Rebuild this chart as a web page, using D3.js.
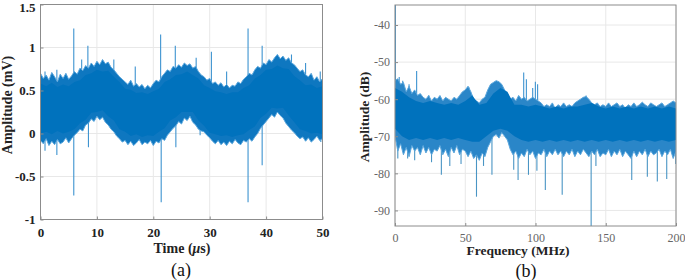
<!DOCTYPE html>
<html><head><meta charset="utf-8">
<script src="https://cdn.jsdelivr.net/npm/d3@7"></script>
<style>body{margin:0;background:#fff}svg{display:block}</style>
</head><body>
<svg id="c" width="685" height="280"></svg>
<script>
// ---------- Panel (a): time signal ----------
const timeTicks = [0, 10, 20, 30, 40, 50];
const ampTicks = [-1, -0.5, 0, 0.5, 1, 1.5];
const ampTickLabels = ["-1", "-0.5", "0", "0.5", "1", "1.5"];
// outer envelope, sampled every 0.5 us from 0 to 50
const timeHi = [0.70,0.64,0.68,0.62,0.71,0.66,0.60,0.69,0.64,0.70,0.63,0.67,0.72,0.69,0.76,0.73,0.79,0.76,0.82,0.78,0.84,0.80,0.86,0.81,0.83,0.77,0.74,0.70,0.66,0.63,0.60,0.57,0.62,0.55,0.58,0.54,0.57,0.52,0.56,0.53,0.58,0.62,0.60,0.66,0.70,0.74,0.72,0.78,0.76,0.80,0.77,0.82,0.79,0.81,0.76,0.78,0.72,0.68,0.66,0.62,0.64,0.58,0.60,0.56,0.59,0.54,0.57,0.53,0.56,0.55,0.60,0.58,0.63,0.66,0.70,0.68,0.74,0.78,0.76,0.82,0.80,0.86,0.83,0.88,0.92,0.87,0.90,0.85,0.88,0.82,0.80,0.76,0.72,0.74,0.68,0.66,0.70,0.62,0.66,0.60,0.64];
const timeLo = [-0.08,-0.12,-0.06,-0.14,-0.09,-0.13,-0.07,-0.12,-0.10,-0.05,-0.11,-0.06,-0.02,0.01,0.05,0.03,0.10,0.12,0.17,0.14,0.20,0.16,0.19,0.13,0.10,0.05,0.02,-0.03,-0.06,-0.10,-0.08,-0.13,-0.09,-0.14,-0.11,-0.07,-0.13,-0.10,-0.12,-0.08,-0.14,-0.09,-0.11,-0.06,-0.08,-0.02,0.02,0.06,0.09,0.14,0.11,0.18,0.15,0.20,0.13,0.10,0.05,0.03,0.02,-0.02,-0.05,-0.09,-0.12,-0.08,-0.13,-0.10,-0.14,-0.09,-0.12,-0.07,-0.11,-0.13,-0.08,-0.10,-0.06,-0.09,-0.04,0.00,0.06,0.10,0.14,0.18,0.22,0.19,0.25,0.21,0.18,0.12,0.08,0.04,0.01,-0.03,-0.06,-0.04,-0.09,-0.05,-0.10,-0.07,-0.03,-0.08,-0.06];
// dense core, sampled every 1 us
const timeCoreHi = [0.58,0.55,0.59,0.54,0.57,0.55,0.60,0.62,0.68,0.70,0.74,0.72,0.73,0.66,0.60,0.52,0.51,0.47,0.48,0.46,0.49,0.52,0.60,0.63,0.68,0.69,0.72,0.68,0.64,0.56,0.53,0.49,0.48,0.46,0.48,0.48,0.53,0.56,0.64,0.68,0.74,0.75,0.79,0.76,0.75,0.67,0.62,0.56,0.57,0.53,0.55];
const timeCoreLo = [0.00,0.02,-0.01,0.03,0.00,0.02,0.05,0.12,0.16,0.24,0.25,0.27,0.20,0.15,0.05,0.02,-0.03,-0.01,-0.04,-0.02,-0.03,0.02,0.06,0.15,0.19,0.25,0.25,0.25,0.15,0.09,0.01,-0.01,-0.03,-0.02,-0.04,-0.02,-0.01,0.04,0.08,0.18,0.23,0.30,0.29,0.30,0.21,0.13,0.05,0.03,0.00,0.01,-0.01];
// isolated spikes [time, amplitude]
const timeSpikesUp = [[0.8,0.72],[2.9,0.74],[5.9,1.22],[7.3,0.86],[8.4,1.02],[13.0,0.86],[16.8,0.78],[21.3,1.15],[23.9,1.02],[27.6,0.88],[30.3,0.95],[33.0,0.72],[36.8,1.22],[39.3,1.02],[44.5,0.92],[47.0,0.82],[49.6,0.72]];
const timeSpikesDown = [[0.8,-0.20],[2.9,-0.25],[5.9,-0.72],[8.5,-0.16],[21.4,-0.80],[24.0,-0.16],[28.3,-0.02],[36.8,-0.80],[39.3,-0.37],[49.7,-0.10]];

// ---------- Panel (b): spectrum ----------
const freqTicks = [0, 50, 100, 150, 200];
const dbTicks = [-90, -80, -70, -60, -50, -40];
// outer envelope every 2 MHz, 0..200
const freqHi = [-55,-54.5,-56,-55.5,-58,-56.5,-58.5,-57.5,-59,-58.5,-59.5,-60,-59,-60.5,-59.5,-60,-59,-60.5,-59.5,-60,-60.5,-59.5,-60,-59,-58,-57.5,-56.5,-58,-60,-60.5,-61,-60,-59.5,-57.5,-56,-55.5,-55,-55.3,-56,-57.5,-59,-60,-59.5,-60.5,-59,-60,-59.5,-60.5,-60,-59.5,-60,-60.5,-61,-62,-61.5,-62,-61,-62.5,-61.5,-62,-61,-62,-61.5,-62,-61,-60.5,-60,-59.5,-59.3,-60,-61,-61.5,-61,-62,-61.5,-62,-61,-62,-61.5,-61,-62,-61.5,-62.5,-61.5,-62,-61,-62,-61.5,-60.8,-61.5,-62,-61,-61.5,-62,-61.5,-61,-62,-61.5,-61,-60.5,-61];
const freqLo = [-70,-74,-72,-75,-73,-75.5,-72.5,-74,-73,-75,-72.5,-74.5,-73,-75,-73.5,-74,-72.5,-75,-73.5,-75.5,-73,-74.5,-72.5,-75,-73.5,-74,-75.5,-74,-76,-75,-76.5,-74.5,-75.5,-73,-71.5,-70,-69.5,-70.5,-69,-70,-71,-73.5,-75,-74,-76,-74.5,-75.5,-73.5,-75,-74,-76,-74.5,-75,-73.5,-75.5,-74,-75,-73.5,-75,-74,-75.5,-74,-75,-73.5,-75.5,-74,-75,-73.5,-74.5,-75.5,-74,-75,-73.5,-75.5,-74.5,-75,-73.5,-75.5,-74,-75,-73.5,-75.5,-74,-75,-76,-74,-75.5,-74,-75,-73.5,-75.5,-74,-75,-74.5,-73.5,-75.5,-74,-75,-73.5,-76,-74];
// dense core every 5 MHz
const freqCoreHi = [-57,-58,-59.5,-60.5,-61,-60.5,-61,-61.5,-61,-61.5,-60.5,-59,-61.5,-61,-58.5,-57,-58,-61.5,-61.5,-62,-61.5,-62,-62.5,-62,-62.5,-62,-62,-61.5,-61,-62,-62.5,-62,-62.5,-62,-62.5,-62,-62.5,-62,-62.5,-62,-62.5];
const freqCoreLo = [-68,-70,-71,-70.5,-71,-70.5,-71,-70.5,-71,-70.5,-71,-71.5,-71.5,-70,-68.5,-68,-68.5,-70,-71,-71.5,-71,-71.5,-71,-71.5,-71,-71.5,-71,-71.5,-71,-71.5,-71,-71.5,-71,-71.5,-71,-71.5,-71,-71.5,-71,-71.5,-71];
const freqSpikesUp = [[0.3,-34.6],[3,-54],[5.5,-55],[10,-56],[15.4,-52.4],[24,-59],[52.6,-56.8],[91.6,-52.8],[93.5,-54.6],[98,-57],[99.9,-55.3],[101.5,-56],[136,-59]];
const freqSpikesDown = [[2,-76],[9,-76],[14,-76.5],[26,-77],[33,-80.4],[39,-78],[47,-77.5],[58,-86.3],[63,-78],[69,-80.4],[84.5,-79],[87.6,-81.8],[95,-80.4],[101,-79.3],[107,-84.5],[119,-85.8],[139.6,-96],[143,-78],[168.5,-81.8],[179.6,-80.9],[186.7,-82.2],[193.4,-81.5],[199.8,-77.5]];

const svg = d3.select("#c");
const BLUE = "#0072BD";
const LIGHT = "#5ba6dc";
const SERIF = "'Liberation Serif', 'Times New Roman', Times, serif";

function panel(o) {
  const x = d3.scaleLinear().domain(o.xDomain).range([o.x0, o.x1]);
  const y = d3.scaleLinear().domain(o.yDomain).range([o.y1, o.y0]);
  const g = svg.append("g");
  const clipId = "clip" + o.id;
  svg.append("clipPath").attr("id", clipId).append("rect")
    .attr("x", o.x0).attr("y", o.y0).attr("width", o.x1 - o.x0).attr("height", o.y1 - o.y0);
  // grid
  g.selectAll(".gx").data(o.xTicks).enter().append("line")
    .attr("x1", d => x(d)).attr("x2", d => x(d)).attr("y1", o.y0).attr("y2", o.y1)
    .attr("stroke", "#e8e8e8").attr("stroke-width", 1);
  g.selectAll(".gy").data(o.yTicks).enter().append("line")
    .attr("y1", d => y(d)).attr("y2", d => y(d)).attr("x1", o.x0).attr("x2", o.x1)
    .attr("stroke", "#e8e8e8").attr("stroke-width", 1);
  const dg = g.append("g").attr("clip-path", `url(#${clipId})`);
  const xs = o.hi.map((_, i) => o.xDomain[0] + i * o.step);
  const env = o.hi.map((d, i) => [xs[i], d, o.lo[i]]);
  // spikes (behind band)
  dg.selectAll(".su").data(o.up).enter().append("line")
    .attr("x1", d => x(d[0])).attr("x2", d => x(d[0]))
    .attr("y1", d => y(d[1])).attr("y2", y(o.upBase))
    .attr("stroke", o.spikeColor).attr("stroke-width", 1.1);
  dg.selectAll(".sd").data(o.down).enter().append("line")
    .attr("x1", d => x(d[0])).attr("x2", d => x(d[0]))
    .attr("y1", d => y(d[1])).attr("y2", y(o.downBase))
    .attr("stroke", o.spikeDownColor).attr("stroke-width", 1.1);
  // outer envelope: jagged filled band with soft light edge
  dg.append("path").datum(env)
    .attr("d", d3.area().x(d => x(d[0])).y0(d => y(d[2])).y1(d => y(d[1])))
    .attr("fill", o.mid).attr("stroke", LIGHT).attr("stroke-width", 1);
  // dense core
  const cx = o.coreHi.map((_, i) => o.xDomain[0] + i * o.coreStep);
  dg.append("path").datum(o.coreHi.map((d, i) => [cx[i], d, o.coreLo[i]]))
    .attr("d", d3.area().x(d => x(d[0])).y0(d => y(d[2])).y1(d => y(d[1])))
    .attr("fill", BLUE);
  // box
  g.append("rect").attr("x", o.x0).attr("y", o.y0).attr("width", o.x1 - o.x0).attr("height", o.y1 - o.y0)
    .attr("fill", "none").attr("stroke", "#8c8c8c").attr("stroke-width", 1);
  // axes
  const ax = g.append("g").attr("transform", `translate(0,${o.y1})`)
    .call(d3.axisBottom(x).tickValues(o.xTicks).tickSize(-3).tickPadding(o.xPad));
  const ay = g.append("g").attr("transform", `translate(${o.x0},0)`)
    .call(d3.axisLeft(y).tickValues(o.yTicks).tickSize(-3).tickPadding(o.yPad).tickFormat(o.yFmt));
  [ax, ay].forEach(a => {
    a.select(".domain").remove();
    a.selectAll("line").attr("stroke", "#8c8c8c");
    a.selectAll("text").attr("font-family", SERIF)
      .attr("font-size", o.tickSize).attr("font-weight", o.tickWeight).attr("fill", o.tickColor);
  });
  return { x, y, ay };
}

const pa = panel({
  id: "a", x0: 40.5, x1: 322.5, y0: 4.5, y1: 219.5,
  xDomain: [0, 50], yDomain: [-1, 1.5], xTicks: timeTicks, yTicks: ampTicks,
  yFmt: d => ampTickLabels[ampTicks.indexOf(d)],
  hi: timeHi, lo: timeLo, step: 0.5, coreHi: timeCoreHi, coreLo: timeCoreLo, coreStep: 1,
  up: timeSpikesUp, down: timeSpikesDown, upBase: 0.4, downBase: 0.3,
  mid: "#0e77c0",
  spikeColor: "#3d93d0", spikeDownColor: "#3d93d0",
  xPad: 8, yPad: 5, tickSize: 13, tickWeight: "bold", tickColor: "#222"
});
// keep the top tick label inside the picture
pa.ay.selectAll(".tick").filter(d => d === 1.5).select("text").attr("dy", "0.5em");

panel({
  id: "b", x0: 395, x1: 676, y0: 5, y1: 226,
  xDomain: [0, 200], yDomain: [-94.2, -34.6], xTicks: freqTicks, yTicks: dbTicks,
  yFmt: d => String(d),
  hi: freqHi, lo: freqLo, step: 2, coreHi: freqCoreHi, coreLo: freqCoreLo, coreStep: 5,
  up: freqSpikesUp, down: freqSpikesDown, upBase: -65, downBase: -66,
  mid: "#2a86c8",
  spikeColor: "#3d93d0", spikeDownColor: "#4a95c4",
  xPad: 7, yPad: 5, tickSize: 12, tickWeight: "normal", tickColor: "#666"
});

// axis titles
svg.append("text").attr("transform", "translate(12,105) rotate(-90)").attr("text-anchor", "middle")
  .attr("font-family", SERIF).attr("font-weight", "bold").attr("font-size", 14).attr("fill", "#222")
  .text("Amplitude (mV)");
const tl = svg.append("text").attr("x", 182).attr("y", 253).attr("text-anchor", "middle")
  .attr("font-family", SERIF).attr("font-weight", "bold").attr("font-size", 14).attr("fill", "#222");
tl.append("tspan").text("Time (");
tl.append("tspan").attr("font-style", "italic").text("μ");
tl.append("tspan").text("s)");
svg.append("text").attr("x", 181).attr("y", 276).attr("text-anchor", "middle")
  .attr("font-family", SERIF).attr("font-size", 18).attr("fill", "#111").text("(a)");

svg.append("text").attr("transform", "translate(369,117) rotate(-90)").attr("text-anchor", "middle")
  .attr("font-family", SERIF).attr("font-weight", "bold").attr("font-size", 13.5).attr("fill", "#222")
  .text("Amplitude (dB)");
svg.append("text").attr("x", 518).attr("y", 255).attr("text-anchor", "middle")
  .attr("font-family", SERIF).attr("font-weight", "bold").attr("font-size", 13.5).attr("fill", "#222")
  .text("Frequency (MHz)");
svg.append("text").attr("x", 526).attr("y", 277).attr("text-anchor", "middle")
  .attr("font-family", SERIF).attr("font-size", 18).attr("fill", "#111").text("(b)");
</script>
</body></html>
